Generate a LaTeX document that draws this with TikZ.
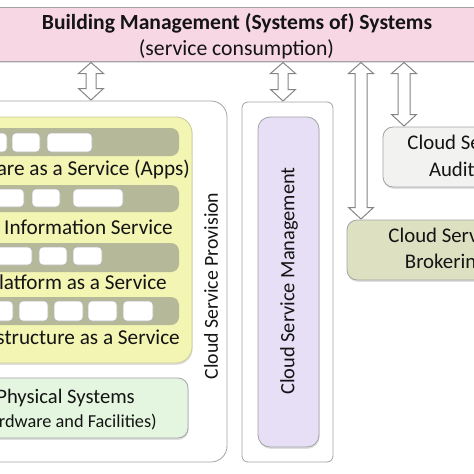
\documentclass[tikz,border=0pt]{standalone}
\usepackage{fontspec}
\setmainfont{Carlito}
\usetikzlibrary{calc,shadows}
\definecolor{pinkfill}{HTML}{F6D7E3}
\definecolor{linegray}{HTML}{A3A3A3}
\definecolor{yelfill}{HTML}{F3F5B3}
\definecolor{yelline}{HTML}{C9CA9C}
\definecolor{bandfill}{HTML}{B5B999}
\definecolor{greenfill}{HTML}{E4F6E0}
\definecolor{purplefill}{HTML}{E6DFF6}
\definecolor{auditfill}{HTML}{F2F3F1}
\definecolor{brokfill}{HTML}{DDE1C1}
\definecolor{txt}{HTML}{141414}
\definecolor{arrowline}{HTML}{858585}
\tikzset{
  panel/.style={draw=linegray, line width=0.8pt, inner sep=0pt, outer sep=0pt},
  softshadow/.style={drop shadow={opacity=0.25, shadow xshift=0.6pt, shadow yshift=-1.8pt}},
  minibox/.style={draw=linegray!80, fill=white, line width=0.6pt, rounded corners=4pt},
  lbl/.style={inner sep=0pt, text=txt, font=\fontsize{21.2}{25}\selectfont},
  blockarrow/.style={draw=arrowline, fill=white, line width=1pt, line join=miter},
}
% double-headed hollow block arrow between two points on one vertical line
% #1 top point, #2 bottom point, #3 half shaft width
\newcommand{\dblarrow}[3]{%
  \draw[blockarrow] let \p1=#1, \p2=#2 in
    (\x1,\y1-1.5pt) -- (\x1+12.5pt,\y1-12.5pt) -- (\x1+#3,\y1-12.5pt)
    -- (\x2+#3,\y2+12.5pt) -- (\x2+12.5pt,\y2+12.5pt) -- (\x2,\y2+1pt)
    -- (\x2-12.5pt,\y2+12.5pt) -- (\x2-#3,\y2+12.5pt)
    -- (\x1-#3,\y1-12.5pt) -- (\x1-12.5pt,\y1-12.5pt) -- cycle;}
\begin{document}
\begin{tikzpicture}[x=1pt,y=-1pt]
\useasboundingbox (0,0) rectangle (474,474);
\clip (0,0) rectangle (474,474);

% top band
\node[panel, fill=pinkfill, softshadow, minimum width=500, minimum height=54] (bms) at (237,34) {};
\node[lbl, font=\fontsize{21.6}{25}\selectfont\bfseries] (bmstitle) at (237,23) {Building Management (Systems of) Systems};
\node[lbl, font=\fontsize{21.7}{25}\selectfont] (bmssub) at (236.5,49) {(service consumption)};

% cloud service provision
\node[panel, fill=white, rounded corners=16pt, minimum width=287, minimum height=361] (prov) at (83.5,281.5) {};
\node[panel, draw=yelline, fill=yelfill, rounded corners=16pt, softshadow, minimum width=252, minimum height=246] (yel) at (66,240) {};

\node[panel, draw=none, fill=bandfill, rounded corners=8pt, minimum width=239, minimum height=28] (b1) at (59.5,142) {};
\node[panel, draw=none, fill=bandfill, rounded corners=8pt, minimum width=239, minimum height=27] (b2) at (59.5,198.5) {};
\node[panel, draw=none, fill=bandfill, rounded corners=8pt, minimum width=239, minimum height=29] (b3) at (59.5,257.5) {};
\node[panel, draw=none, fill=bandfill, rounded corners=8pt, minimum width=239, minimum height=28] (b4) at (59.5,311) {};

\draw[minibox] (-30,133) rectangle (7,152);
\draw[minibox] (12,133) rectangle (40,152);
\draw[minibox] (47,133) rectangle (92,152);

\draw[minibox] (-30,189) rectangle (24,207);
\draw[minibox] (32,189) rectangle (60,207);
\draw[minibox] (73,189) rectangle (123,207);

\draw[minibox] (-30,247) rectangle (32,265);
\draw[minibox] (39,247) rectangle (67,265);
\draw[minibox] (73,247) rectangle (102,265);

\draw[minibox] (-30,301) rectangle (13,321);
\draw[minibox] (19,301) rectangle (48,321);
\draw[minibox] (54,301) rectangle (83,321);
\draw[minibox] (88,301) rectangle (117,321);
\draw[minibox] (123,301) rectangle (153,321);

\node[lbl, anchor=east] (saas) at (190,169) {Software as a Service (Apps)};
\node[lbl, anchor=east] (info) at (173,227) {Information Service};
\node[lbl, anchor=east] (paas) at (167,282) {Platform as a Service};
\node[lbl, anchor=east] (iaas) at (180,337) {Infrastructure as a Service};

\node[panel, fill=greenfill, rounded corners=10pt, softshadow, minimum width=242, minimum height=60] (phys) at (67,408) {};
\node[lbl, font=\fontsize{20.6}{24}\selectfont, anchor=east] (physa) at (135,398) {Physical Systems};
\node[lbl, font=\fontsize{18.3}{22}\selectfont, anchor=east] (physb) at (157,422) {(Hardware and Facilities)};

\node[lbl, font=\fontsize{19.8}{24}\selectfont, rotate=90] (provlbl) at (211,286) {Cloud Service Provision};

% cloud service management
\node[panel, fill=white, rounded corners=6pt, minimum width=91, minimum height=360] (mgmtouter) at (287.5,282) {};
\node[panel, fill=purplefill, rounded corners=12pt, softshadow, minimum width=61, minimum height=330] (mgmt) at (288.5,282) {};
\node[lbl, font=\fontsize{20.4}{24}\selectfont, rotate=90] (mgmtlbl) at (289,281) {Cloud Service Management};

% auditing and brokering
\node[panel, fill=auditfill, rounded corners=10pt, softshadow, minimum width=163, minimum height=60] (audit) at (464.5,157) {};
\node[lbl, font=\fontsize{20.8}{27}\selectfont, align=center] (auditlbl) at (464.5,158) {Cloud Service\\Auditing};
\node[panel, fill=brokfill, rounded corners=10pt, softshadow, minimum width=197, minimum height=60] (brok) at (445.5,250) {};
\node[lbl, font=\fontsize{20.8}{26}\selectfont, align=center] (broklbl) at (445.5,250) {Cloud Service\\Brokering};

% arrows
\coordinate (ax1) at (91,0);
\coordinate (ax2) at (283,0);
\coordinate (ax3) at (361,0);
\coordinate (ax4) at (404,0);
\dblarrow{(bms.south -| ax1)}{(prov.north -| ax1)}{5pt}
\dblarrow{(bms.south -| ax2)}{(mgmtouter.north -| ax2)}{5pt}
\dblarrow{(bms.south -| ax3)}{(brok.north -| ax3)}{6pt}
\dblarrow{(bms.south -| ax4)}{(audit.north -| ax4)}{6pt}
\end{tikzpicture}
\end{document}
